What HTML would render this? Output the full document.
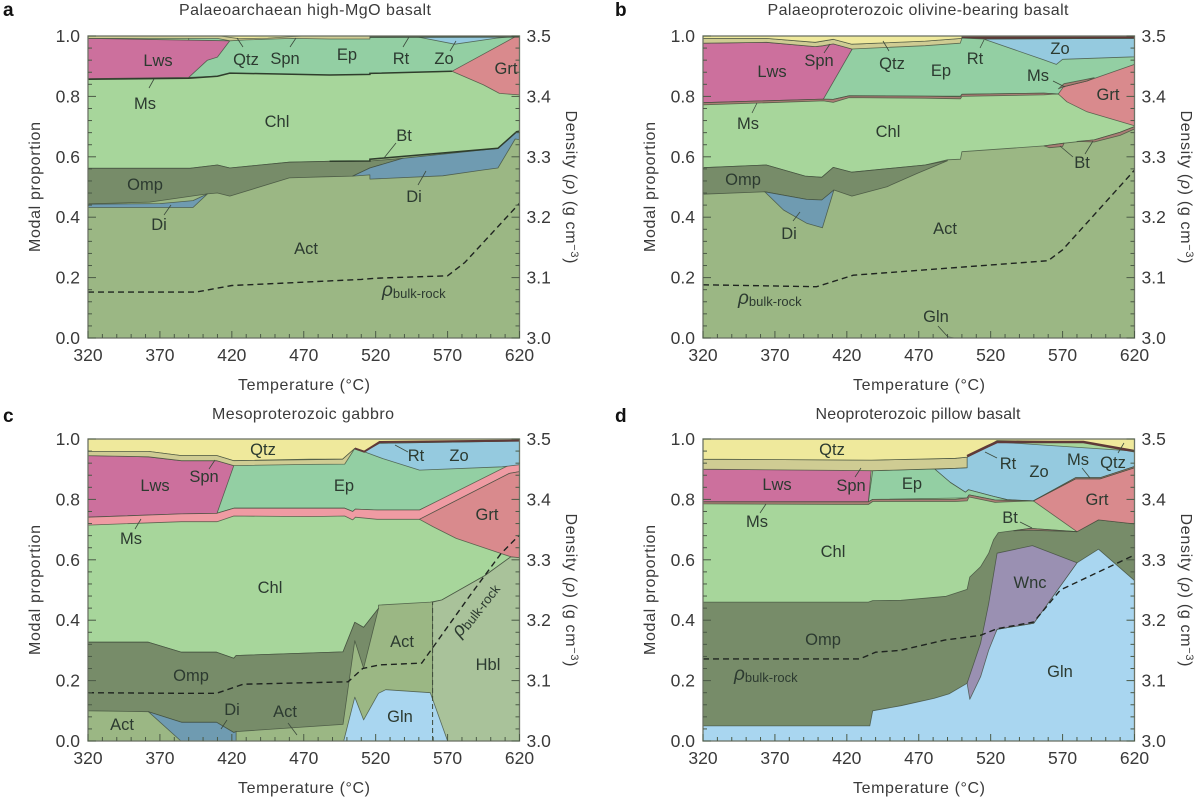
<!DOCTYPE html>
<html lang="en">
<head>
<meta charset="utf-8">
<title>Modal proportion and density against temperature for four protoliths</title>
<style>
html,body{margin:0;padding:0;background:#fff}
svg{display:block}
text{font-family:"Liberation Sans","DejaVu Sans",sans-serif}
.t{font-size:17.5px;fill:#3a3a3a}
.tt{font-size:16px;fill:#3a3a3a;text-anchor:middle}
.l{font-size:16.5px;fill:#2c3a30;text-anchor:middle}
.p{font-size:19px;font-weight:bold;fill:#111}
.ld{stroke:#3c4a3c;stroke-width:.8;fill:none}
.i{font-style:italic;font-size:19px}
.s{font-size:13px}
</style>
</head>
<body>
<svg id="chart" xmlns="http://www.w3.org/2000/svg" width="1200" height="798" viewBox="0 0 1200 798">
<rect width="1200" height="798" fill="#fff"/>
<g id="panel-a"><g id="marks-a"></g>
<text class="p" x="3" y="16">a</text>
<text class="tt" x="305" y="15" textLength="252">Palaeoarchaean high-MgO basalt</text>
<text class="tt" x="304" y="390" textLength="132">Temperature (°C)</text>
<text class="tt" transform="translate(40,187) rotate(-90)" textLength="130">Modal proportion</text>
<text class="tt" transform="translate(566,187) rotate(90)" textLength="153">Density (<tspan font-style="italic">ρ</tspan>) (g cm<tspan dy="-5" font-size="11">−3</tspan><tspan dy="5">)</tspan></text>
<line class="ld" x1="154" y1="79" x2="149" y2="88"/>
<line class="ld" x1="237" y1="38" x2="243" y2="47"/>
<line class="ld" x1="296" y1="38" x2="290" y2="47"/>
<line class="ld" x1="409" y1="37" x2="403" y2="47"/>
<line class="ld" x1="456" y1="41" x2="450" y2="51"/>
<line class="ld" x1="396" y1="143" x2="384" y2="158"/>
<line class="ld" x1="426" y1="171" x2="418" y2="185"/>
<line class="ld" x1="171" y1="205" x2="164" y2="215"/>
<text class="l" x="158" y="66">Lws</text>
<text class="l" x="145" y="109">Ms</text>
<text class="l" x="277" y="127">Chl</text>
<text class="l" x="145" y="190">Omp</text>
<text class="l" x="159" y="230">Di</text>
<text class="l" x="306" y="254">Act</text>
<text class="l" x="246" y="65">Qtz</text>
<text class="l" x="285" y="64">Spn</text>
<text class="l" x="347" y="60">Ep</text>
<text class="l" x="401" y="64">Rt</text>
<text class="l" x="444" y="64">Zo</text>
<text class="l" x="506" y="74">Grt</text>
<text class="l" x="404" y="141">Bt</text>
<text class="l" x="414" y="202">Di</text>
<text x="382" y="296" fill="#2c3a30"><tspan class="i">ρ</tspan><tspan class="s" dy="2">bulk-rock</tspan></text>
</g>
<g id="panel-b"><g id="marks-b"></g>
<text class="p" x="615" y="16">b</text>
<text class="tt" x="918" y="15" textLength="301">Palaeoproterozoic olivine-bearing basalt</text>
<text class="tt" x="919" y="390" textLength="132">Temperature (°C)</text>
<text class="tt" transform="translate(655,187) rotate(-90)" textLength="130">Modal proportion</text>
<text class="tt" transform="translate(1181,187) rotate(90)" textLength="153">Density (<tspan font-style="italic">ρ</tspan>) (g cm<tspan dy="-5" font-size="11">−3</tspan><tspan dy="5">)</tspan></text>
<line class="ld" x1="830" y1="44" x2="824" y2="53"/>
<line class="ld" x1="883" y1="41" x2="889" y2="51"/>
<line class="ld" x1="757" y1="103" x2="752" y2="113"/>
<line class="ld" x1="984" y1="40" x2="980" y2="48"/>
<line class="ld" x1="1053" y1="81" x2="1065" y2="87"/>
<line class="ld" x1="1060" y1="146" x2="1073" y2="157"/>
<line class="ld" x1="1093" y1="141" x2="1085" y2="154"/>
<line class="ld" x1="800" y1="212" x2="793" y2="221"/>
<line class="ld" x1="938" y1="326" x2="948" y2="337"/>
<text class="l" x="772" y="77">Lws</text>
<text class="l" x="819" y="66">Spn</text>
<text class="l" x="892" y="69">Qtz</text>
<text class="l" x="941" y="76">Ep</text>
<text class="l" x="975" y="64">Rt</text>
<text class="l" x="1060" y="54">Zo</text>
<text class="l" x="1038" y="81">Ms</text>
<text class="l" x="1108" y="100">Grt</text>
<text class="l" x="888" y="137">Chl</text>
<text class="l" x="748" y="129">Ms</text>
<text class="l" x="743" y="185">Omp</text>
<text class="l" x="789" y="239">Di</text>
<text class="l" x="945" y="234">Act</text>
<text class="l" x="1082" y="168">Bt</text>
<text class="l" x="936" y="322">Gln</text>
<text x="738" y="304" fill="#2c3a30"><tspan class="i">ρ</tspan><tspan class="s" dy="2">bulk-rock</tspan></text>
</g>
<g id="panel-c"><g id="marks-c"></g>
<text class="p" x="3" y="422">c</text>
<text class="tt" x="303" y="419" textLength="182">Mesoproterozoic gabbro</text>
<text class="tt" x="304" y="793" textLength="132">Temperature (°C)</text>
<text class="tt" transform="translate(40,590) rotate(-90)" textLength="130">Modal proportion</text>
<text class="tt" transform="translate(566,590) rotate(90)" textLength="153">Density (<tspan font-style="italic">ρ</tspan>) (g cm<tspan dy="-5" font-size="11">−3</tspan><tspan dy="5">)</tspan></text>
<line class="ld" x1="141" y1="519" x2="135" y2="529"/>
<line class="ld" x1="215" y1="460" x2="209" y2="469"/>
<line class="ld" x1="395" y1="445" x2="408" y2="452"/>
<line class="ld" x1="227" y1="720" x2="221" y2="729"/>
<line class="ld" x1="288" y1="723" x2="297" y2="735"/>
<text class="l" x="263" y="455">Qtz</text>
<text class="l" x="155" y="491">Lws</text>
<text class="l" x="204" y="482">Spn</text>
<text class="l" x="131" y="544">Ms</text>
<text class="l" x="270" y="593">Chl</text>
<text class="l" x="344" y="491">Ep</text>
<text class="l" x="416" y="461">Rt</text>
<text class="l" x="459" y="461">Zo</text>
<text class="l" x="487" y="520">Grt</text>
<text class="l" x="191" y="681">Omp</text>
<text class="l" x="122" y="730">Act</text>
<text class="l" x="232" y="715">Di</text>
<text class="l" x="285" y="717">Act</text>
<text class="l" x="400" y="722">Gln</text>
<text class="l" x="402" y="647">Act</text>
<text class="l" x="488" y="670">Hbl</text>
<text transform="translate(460,638) rotate(-52)" fill="#2c3a30"><tspan class="i">ρ</tspan><tspan class="s" dy="2">bulk-rock</tspan></text>
</g>
<g id="panel-d"><g id="marks-d"></g>
<text class="p" x="615" y="422">d</text>
<text class="tt" x="918" y="419" textLength="205">Neoproterozoic pillow basalt</text>
<text class="tt" x="919" y="793" textLength="132">Temperature (°C)</text>
<text class="tt" transform="translate(655,590) rotate(-90)" textLength="130">Modal proportion</text>
<text class="tt" transform="translate(1181,590) rotate(90)" textLength="153">Density (<tspan font-style="italic">ρ</tspan>) (g cm<tspan dy="-5" font-size="11">−3</tspan><tspan dy="5">)</tspan></text>
<line class="ld" x1="861" y1="468" x2="855" y2="477"/>
<line class="ld" x1="766" y1="504" x2="760" y2="513"/>
<line class="ld" x1="985" y1="452" x2="997" y2="458"/>
<line class="ld" x1="1082" y1="468" x2="1090" y2="478"/>
<line class="ld" x1="1124" y1="443" x2="1118" y2="453"/>
<line class="ld" x1="1020" y1="522" x2="1032" y2="528"/>
<text class="l" x="832" y="455">Qtz</text>
<text class="l" x="777" y="490">Lws</text>
<text class="l" x="851" y="491">Spn</text>
<text class="l" x="912" y="489">Ep</text>
<text class="l" x="757" y="527">Ms</text>
<text class="l" x="833" y="557">Chl</text>
<text class="l" x="1008" y="469">Rt</text>
<text class="l" x="1039" y="477">Zo</text>
<text class="l" x="1078" y="465">Ms</text>
<text class="l" x="1113" y="468">Qtz</text>
<text class="l" x="1097" y="505">Grt</text>
<text class="l" x="1010" y="523">Bt</text>
<text class="l" x="823" y="645">Omp</text>
<text class="l" x="1030" y="588">Wnc</text>
<text class="l" x="1060" y="677">Gln</text>
<text x="734" y="680" fill="#2c3a30"><tspan class="i">ρ</tspan><tspan class="s" dy="2">bulk-rock</tspan></text>
</g>
</svg>
<script>
// Tick labels
const tempTicks = [320, 370, 420, 470, 520, 570, 620];
const modalTicks = [0, 0.2, 0.4, 0.6, 0.8, 1.0];
const densityTicks = [3.0, 3.1, 3.2, 3.3, 3.4, 3.5];

// Phase colours
const colours = {
  Act: '#9bb784', Chl: '#a7d69b', Omp: '#778c69', Di: '#6f9bb1', Lws: '#cc709d', Ep: '#93cfa3',
  Grt: '#d98a8d', Zo: '#95cadf', Qtz: '#efe99c', Spn: '#cfcc93', Ms: '#ef9ba3', MsThin: '#a97d74',
  Gln: '#a9d6f0', Wnc: '#9a90b2', Hbl: '#a9c29a', Rt: '#5f3a38', Bt: '#8a8f6a', Dark: '#2f3d2c'
};

// Panel a: [temperature, modal proportion]
const aAct = [[320,0],[620,0],[620,1],[320,1]];
const aChl = [[320,.562],[391,.562],[410,.573],[418.6,.563],[460,.582],[488,.585],[516,.586],[516,.592],[605,.628],[618,.683],[620,.685],[620,1],[320,1]];
const aEp = [[390,.863],[410,.867],[418.6,.877],[488,.871],[516,.873],[516,.876],[573,.883],[620,.9],[620,1],[390,1]];
const aLws = [[320,.992],[418.6,.984],[410,.93],[403,.92],[390,.863],[320,.859]];
const aGrt = [[573,.883],[618,1],[620,1],[620,.805],[606,.81],[595,.838]];
const aZo = [[548,.998],[575,.973],[604,.993],[620,1]];
const aSpn = [[320,1],[516,1],[516,.99],[488,.99],[462,.992],[430,.987],[418.6,.984],[410,.992],[320,.992]];
const aQtz = [[412,1],[425,.991],[445,.993],[462,.998],[470,1]];
const aRt = [[516,1],[620,1],[620,.996],[516,.995]];
const aOmp = [[320,.562],[391,.562],[410,.573],[418.6,.563],[460,.582],[488,.585],[516,.586],[539,.595],[516,.563],[504,.536],[488,.534],[460,.53],[418.6,.47],[410,.48],[403,.477],[363,.45],[320,.444]];
const aDiLeft = [[320,.443],[370,.445],[393,.455],[403,.477],[393,.432],[320,.432]];
const aDiRight = [[504,.536],[516,.563],[539,.595],[605,.628],[618,.683],[620,.685],[620,.657],[617,.659],[605,.563],[594,.556],[566.6,.537],[516,.526],[516,.54]];
const aMsLine = [[320,.857],[390,.86],[410,.867],[418.6,.877],[488,.871],[516,.873],[516,.876],[573,.883]];
const aBtLine = [[488,.585],[516,.586],[516,.592],[605,.628],[618,.683],[620,.685]];
const aDensity = [[320,3.076],[395,3.076],[420,3.087],[440,3.089],[510,3.097],[520,3.099],[570,3.103],[582,3.125],[620,3.223]];

// Panel b
const bAct = [[320,0],[620,0],[620,1],[320,1]];
const bGln = [[490,.004],[495,0],[490,0]];
const bChl = [[320,.564],[364,.573],[391,.536],[402.6,.532],[410.5,.565],[423.5,.549],[474.5,.573],[490,.59],[499,.592],[500,.617],[557,.636],[571,.645],[592,.656],[610,.681],[620,.7],[620,1],[320,1]];
const bOmp = [[320,.564],[364,.573],[391,.536],[402.6,.532],[410.5,.565],[423.5,.549],[474.5,.573],[490,.587],[469,.545],[448,.501],[423.5,.47],[411,.49],[402.6,.457],[392,.459],[363,.484],[320,.476]];
const bDi = [[363,.484],[376,.424],[392,.38],[403,.365],[411,.49],[402.6,.457],[392,.459]];
const bEp = [[403.7,.791],[410.5,.79],[421.6,.802],[474.5,.801],[499,.801],[500,.807],[557,.811],[567,.808],[620,.85],[620,1],[403,1]];
const bLws = [[320,.976],[364,.979],[398,.965],[403.5,.968],[410.5,.974],[423.7,.957],[403.7,.791],[320,.779]];
const bMs = [[320,.779],[403.7,.791],[410.5,.79],[421.6,.802],[474.5,.801],[499,.799],[500,.807],[557,.811],[567,.808],[557,.805],[500,.8],[499,.792],[474.5,.794],[421.6,.796],[410.5,.78],[403.7,.785],[320,.772]];
const bZo = [[515,.99],[620,.992],[620,.931],[570,.923],[565.6,.906],[557,.921]];
const bRt = [[500,1],[620,1],[620,.992],[515,.99],[500,.993]];
const bGrt = [[567,.808],[570.7,.832],[587,.851],[620,.906],[620,.703],[587,.749],[573,.782]];
const bMsUpper = [[567,.825],[570.7,.832],[587,.851],[592,.862],[587,.857],[571,.842]];
const bBtLensA = [[557,.636],[571,.645],[570,.634],[561,.63]];
const bBtLensB = [[580,.651],[592,.656],[610,.681],[620,.7],[620,.692],[610,.671],[592,.649]];
const bSpn = [[320,.992],[364,.992],[398,.979],[410.5,.989],[423.5,.973],[474.5,.983],[500,.992],[498.8,.976],[474.5,.968],[423.5,.957],[410.5,.974],[403.5,.968],[398,.965],[364,.979],[320,.976]];
const bQtz = [[320,1],[500,1],[500,.992],[474.5,.983],[423.5,.973],[410.5,.989],[398,.979],[364,.992],[320,.992]];
const bDensity = [[320,3.088],[399,3.085],[424.5,3.104],[560,3.128],[570,3.146],[620,3.278]];

// Panel c
const cAct = [[320,0],[620,0],[620,1],[320,1]];
const cChl = [[320,.327],[362,.327],[385,.294],[409.4,.294],[421.4,.274],[423,.283],[497.3,.295],[505.5,.393],[511.6,.376],[522,.439],[522,.45],[558,.46],[566,.467],[596,.548],[614,.61],[620,.612],[620,1],[320,1]];
const cHbl = [[559.6,0],[620,0],[620,.612],[614,.61],[596,.548],[566,.467],[559.6,.46]];
const cOmp = [[320,.327],[362,.327],[385,.294],[409.4,.294],[421.4,.274],[423,.283],[497.3,.295],[505.5,.393],[511.6,.376],[522,.439],[511.6,.241],[505.5,.332],[497.3,.055],[423,.031],[421.4,.028],[409.4,.062],[385,.062],[362,.097],[320,.1]];
const cDi = [[362,.097],[385,.062],[409.4,.062],[421.4,.028],[423,.031],[423,0],[384.6,0]];
const cGln = [[497.8,0],[505.5,.145],[511.6,.07],[522,.158],[527,.17],[558,.16],[570,0]];
const cEp = [[409.7,.754],[421.4,.771],[498.5,.771],[504,.76],[505.9,.768],[521,.765],[550.5,.765],[620,.92],[620,1],[409.7,1]];
const cLws = [[320,.945],[362,.941],[385,.928],[409.7,.928],[421.4,.912],[409.7,.754],[385,.752],[320,.741]];
const cMs = [[320,.741],[385,.752],[409.7,.754],[421.4,.771],[498.5,.771],[504,.76],[505.9,.768],[521,.765],[550.5,.765],[613,.914],[620,.92],[620,.892],[613,.886],[550.5,.734],[521,.734],[505.9,.741],[504,.732],[498.5,.745],[474,.743],[421.4,.745],[409.7,.726],[385,.726],[320,.715]];
const cGrt = [[550.5,.734],[613,.886],[620,.892],[620,.607],[614,.61],[576,.671],[559.8,.71]];
const cZo = [[505.5,.969],[512,.958],[522.7,.986],[620,.993],[620,.915],[608,.908],[550.5,.897],[525,.935],[512,.958]];
const cQtz = [[320,1],[620,1],[620,.993],[522.7,.986],[512,.958],[505.5,.969],[497,.933],[474,.933],[421.4,.928],[409.7,.945],[385,.945],[362,.959],[320,.959]];
const cSpn = [[320,.959],[362,.959],[385,.945],[409.7,.945],[421.4,.928],[497,.933],[505.5,.969],[498.5,.917],[474,.916],[421.4,.912],[409.7,.928],[385,.928],[362,.941],[320,.945]];
const cRtLine = [[505.5,.969],[512,.958],[522.7,.99],[620,.995]];
const cHblEdge = [[559.6,0],[559.6,.46]];
const cDensity = [[320,3.08],[384,3.079],[409.4,3.079],[428,3.094],[500.8,3.098],[511,3.12],[522.8,3.126],[552,3.129],[585,3.239],[607,3.31],[620,3.341]];

// Panel d
const dGln = [[320,0],[620,0],[620,1],[320,1]];
const dOmp = [[320,.05],[436,.05],[438,.1],[457.7,.117],[480.6,.141],[491,.156],[503.6,.191],[524.5,.37],[550,.39],[580,.59],[595,.635],[620,.531],[620,1],[320,1]];
const dWnc = [[503.6,.191],[505.5,.138],[513,.213],[518.6,.301],[524.5,.37],[550,.39],[580,.59],[549,.647],[524.5,.622],[518.6,.455],[513,.324]];
const dChl = [[320,.46],[435,.46],[438,.465],[457.7,.466],[489,.479],[503.6,.502],[505.5,.543],[513,.577],[518.6,.622],[522,.666],[525.3,.69],[547.5,.704],[580,.693],[595,.732],[620,.719],[620,1],[320,1]];
const dZo = [[481,.9],[503.6,.905],[503.6,.94],[517.5,.975],[524.5,.99],[620,.96],[620,.909],[596,.872],[579,.872],[549.7,.795],[531.5,.799],[522,.81],[504.6,.832],[502.4,.824],[492,.856]];
const dEp = [[438,.895],[481,.901],[492,.856],[502.4,.824],[504.6,.832],[522,.81],[531.5,.799],[549.7,.795],[531.5,.797],[523,.798],[505,.815],[503.6,.805],[438,.8],[435,.792]];
const dLws = [[320,.9],[437,.9],[435,.792],[320,.792]];
const dMs = [[320,.792],[435,.792],[438,.8],[495.5,.8],[503.6,.805],[505,.815],[523,.798],[531.5,.797],[549.7,.795],[531.5,.792],[523,.79],[505,.808],[503.6,.795],[495.5,.793],[438,.793],[435,.783],[320,.785]];
const dGrt = [[549.7,.795],[579,.868],[596,.868],[620,.905],[620,.719],[595,.732],[580,.693]];
const dMsUpper = [[549.7,.795],[579,.872],[596,.872],[620,.909],[620,.905],[596,.868],[579,.868]];
const dBt = [[547.5,.704],[580,.693],[547,.698],[536,.696]];
const dSpn = [[320,.933],[437,.93],[495.5,.936],[503.6,.94],[503.6,.905],[495.5,.903],[438,.895],[320,.9]];
const dQtz = [[320,1],[620,1],[620,.96],[584.5,.99],[524.5,.995],[517.5,.975],[503.6,.94],[495.5,.936],[437,.93],[320,.933]];
const dRtLine = [[503.6,.943],[517.5,.975],[524.5,.99],[584.5,.99],[620,.96]];
const dDensity = [[320,3.136],[429,3.136],[440,3.147],[457,3.15],[488,3.167],[513,3.175],[524.5,3.186],[550,3.197],[568.4,3.25],[620,3.308]];

const NS = 'http://www.w3.org/2000/svg';
const plotW = 431.5;
const plotH = 302;

function xAxis(p, t) { return p.x + (t - 320) / 300 * plotW; }
function yModal(p, v) { return p.y + (1 - v) * plotH; }
function yDensity(p, r) { return p.y + (3.5 - r) / 0.5 * plotH; }

function pathFrom(p, pts, closed) {
  const parts = [];
  for (let i = 0; i < pts.length; i++) {
    parts.push((i ? 'L' : 'M') + xAxis(p, pts[i][0]).toFixed(1) + ' ' + yModal(p, pts[i][1]).toFixed(1));
  }
  return parts.join(' ') + (closed ? ' Z' : '');
}

function region(p, pts, colour, name) {
  const el = document.createElementNS(NS, 'path');
  el.setAttribute('d', pathFrom(p, pts, true));
  el.setAttribute('fill', colour);
  el.setAttribute('stroke', '#3c4838');
  el.setAttribute('stroke-opacity', '.75');
  el.setAttribute('stroke-width', '.8');
  el.setAttribute('stroke-linejoin', 'round');
  
  
  p.g.appendChild(el);
}

function polyline(p, pts, colour, width, dash, name) {
  const el = document.createElementNS(NS, 'path');
  el.setAttribute('d', pathFrom(p, pts, false));
  el.setAttribute('fill', 'none');
  el.setAttribute('stroke', colour);
  el.setAttribute('stroke-width', width);
  if (dash) el.setAttribute('stroke-dasharray', dash);
  
  
  p.g.appendChild(el);
}

function densityLine(p, pts) {
  const parts = [];
  for (let i = 0; i < pts.length; i++) {
    parts.push((i ? 'L' : 'M') + xAxis(p, pts[i][0]).toFixed(1) + ' ' + yDensity(p, pts[i][1]).toFixed(1));
  }
  const el = document.createElementNS(NS, 'path');
  el.setAttribute('d', parts.join(' '));
  el.setAttribute('fill', 'none');
  el.setAttribute('stroke', '#1f2420');
  el.setAttribute('stroke-width', '1.4');
  el.setAttribute('stroke-dasharray', '6 4');
  
  
  p.g.appendChild(el);
}

function tick(p, x1, y1, x2, y2) {
  const el = document.createElementNS(NS, 'line');
  el.setAttribute('x1', x1);
  el.setAttribute('y1', y1);
  el.setAttribute('x2', x2);
  el.setAttribute('y2', y2);
  el.setAttribute('stroke', '#4b5a46');
  el.setAttribute('stroke-width', '1');
  
  
  p.g.appendChild(el);
}

function label(p, x, y, str, anchor, name) {
  const el = document.createElementNS(NS, 'text');
  el.setAttribute('x', x);
  el.setAttribute('y', y);
  el.setAttribute('class', 't');
  el.setAttribute('text-anchor', anchor);
  el.textContent = str;
  
  
  p.g.appendChild(el);
}

function axes(p) {
  const frame = document.createElementNS(NS, 'rect');
  frame.setAttribute('x', p.x);
  frame.setAttribute('y', p.y);
  frame.setAttribute('width', plotW);
  frame.setAttribute('height', plotH);
  frame.setAttribute('fill', 'none');
  frame.setAttribute('stroke', '#6d7466');
  frame.setAttribute('stroke-width', '1.3');
  
  
  p.g.appendChild(frame);
  const bottom = p.y + plotH;
  const right = p.x + plotW;
  for (let t = 320; t <= 620; t += 10) {
    const major = (t - 320) % 50 === 0;
    tick(p, xAxis(p, t), bottom, xAxis(p, t), bottom - (major ? 7 : 4));
  }
  for (let i = 0; i <= 25; i++) {
    const v = i * 0.04;
    const major = i % 5 === 0;
    tick(p, p.x, yModal(p, v), p.x + (major ? 8 : 4), yModal(p, v));
    tick(p, right, yModal(p, v), right - (major ? 8 : 4), yModal(p, v));
  }
  tempTicks.forEach(function (t) {
    label(p, xAxis(p, t), bottom + 23, String(t), 'middle', 'x-tick-label');
  });
  modalTicks.forEach(function (v) {
    label(p, p.x - 8, yModal(p, v) + 6, v.toFixed(1), 'end', 'y-tick-label');
  });
  densityTicks.forEach(function (r) {
    label(p, right + 7, yDensity(p, r) + 6, r.toFixed(1), 'start', 'density-tick-label');
  });
}

const pA = { x: 88, y: 36, g: document.getElementById('marks-a') };
const pB = { x: 703, y: 36, g: document.getElementById('marks-b') };
const pC = { x: 88, y: 439, g: document.getElementById('marks-c') };
const pD = { x: 703, y: 439, g: document.getElementById('marks-d') };

region(pA, aAct, colours.Act, 'act-region');
region(pA, aChl, colours.Chl, 'chl-region');
region(pA, aEp, colours.Ep, 'ep-region');
region(pA, aLws, colours.Lws, 'lws-region');
region(pA, aZo, colours.Zo, 'zo-region');
region(pA, aGrt, colours.Grt, 'grt-region');
region(pA, aSpn, colours.Spn, 'spn-region');
region(pA, aQtz, colours.Qtz, 'qtz-region');
region(pA, aRt, colours.Dark, 'rt-region');
region(pA, aOmp, colours.Omp, 'omp-region');
region(pA, aDiLeft, colours.Di, 'di-region-left');
region(pA, aDiRight, colours.Di, 'di-region-right');
polyline(pA, aMsLine, colours.Dark, 1.5, null, 'ms-line');
polyline(pA, aBtLine, colours.Dark, 1.5, null, 'bt-line');
densityLine(pA, aDensity);
axes(pA);

region(pB, bAct, colours.Act, 'act-region');
region(pB, bGln, colours.Gln, 'gln-region');
region(pB, bChl, colours.Chl, 'chl-region');
region(pB, bOmp, colours.Omp, 'omp-region');
region(pB, bDi, colours.Di, 'di-region');
region(pB, bEp, colours.Ep, 'ep-region');
region(pB, bLws, colours.Lws, 'lws-region');
region(pB, bMs, colours.MsThin, 'ms-region');
region(pB, bZo, colours.Zo, 'zo-region');
region(pB, bGrt, colours.Grt, 'grt-region');
region(pB, bMsUpper, colours.MsThin, 'ms-region-upper');
region(pB, bBtLensA, colours.MsThin, 'bt-lens-left');
region(pB, bBtLensB, colours.MsThin, 'bt-lens-right');
region(pB, bSpn, colours.Spn, 'spn-region');
region(pB, bQtz, colours.Qtz, 'qtz-region');
region(pB, bRt, colours.Rt, 'rt-region');
densityLine(pB, bDensity);
axes(pB);

region(pC, cAct, colours.Act, 'act-region');
region(pC, cChl, colours.Chl, 'chl-region');
region(pC, cHbl, colours.Hbl, 'hbl-region');
region(pC, cOmp, colours.Omp, 'omp-region');
region(pC, cDi, colours.Di, 'di-region');
region(pC, cGln, colours.Gln, 'gln-region');
polyline(pC, cHblEdge, '#3c4838', 1, '5 3', 'act-hbl-boundary');
region(pC, cEp, colours.Ep, 'ep-region');
region(pC, cLws, colours.Lws, 'lws-region');
region(pC, cMs, colours.Ms, 'ms-region');
region(pC, cGrt, colours.Grt, 'grt-region');
region(pC, cZo, colours.Zo, 'zo-region');
region(pC, cQtz, colours.Qtz, 'qtz-region');
region(pC, cSpn, colours.Spn, 'spn-region');
polyline(pC, cRtLine, colours.Rt, 2, null, 'rt-line');
densityLine(pC, cDensity);
axes(pC);

region(pD, dGln, colours.Gln, 'gln-region');
region(pD, dOmp, colours.Omp, 'omp-region');
region(pD, dWnc, colours.Wnc, 'wnc-region');
region(pD, dChl, colours.Chl, 'chl-region');
region(pD, dZo, colours.Zo, 'zo-region');
region(pD, dEp, colours.Ep, 'ep-region');
region(pD, dLws, colours.Lws, 'lws-region');
region(pD, dMs, colours.MsThin, 'ms-region');
region(pD, dGrt, colours.Grt, 'grt-region');
region(pD, dMsUpper, colours.MsThin, 'ms-region-upper');
region(pD, dBt, colours.MsThin, 'bt-region');
region(pD, dSpn, colours.Spn, 'spn-region');
region(pD, dQtz, colours.Qtz, 'qtz-region');
polyline(pD, dRtLine, colours.Rt, 2.6, null, 'rt-line');
densityLine(pD, dDensity);
axes(pD);
</script>
</body>
</html>
